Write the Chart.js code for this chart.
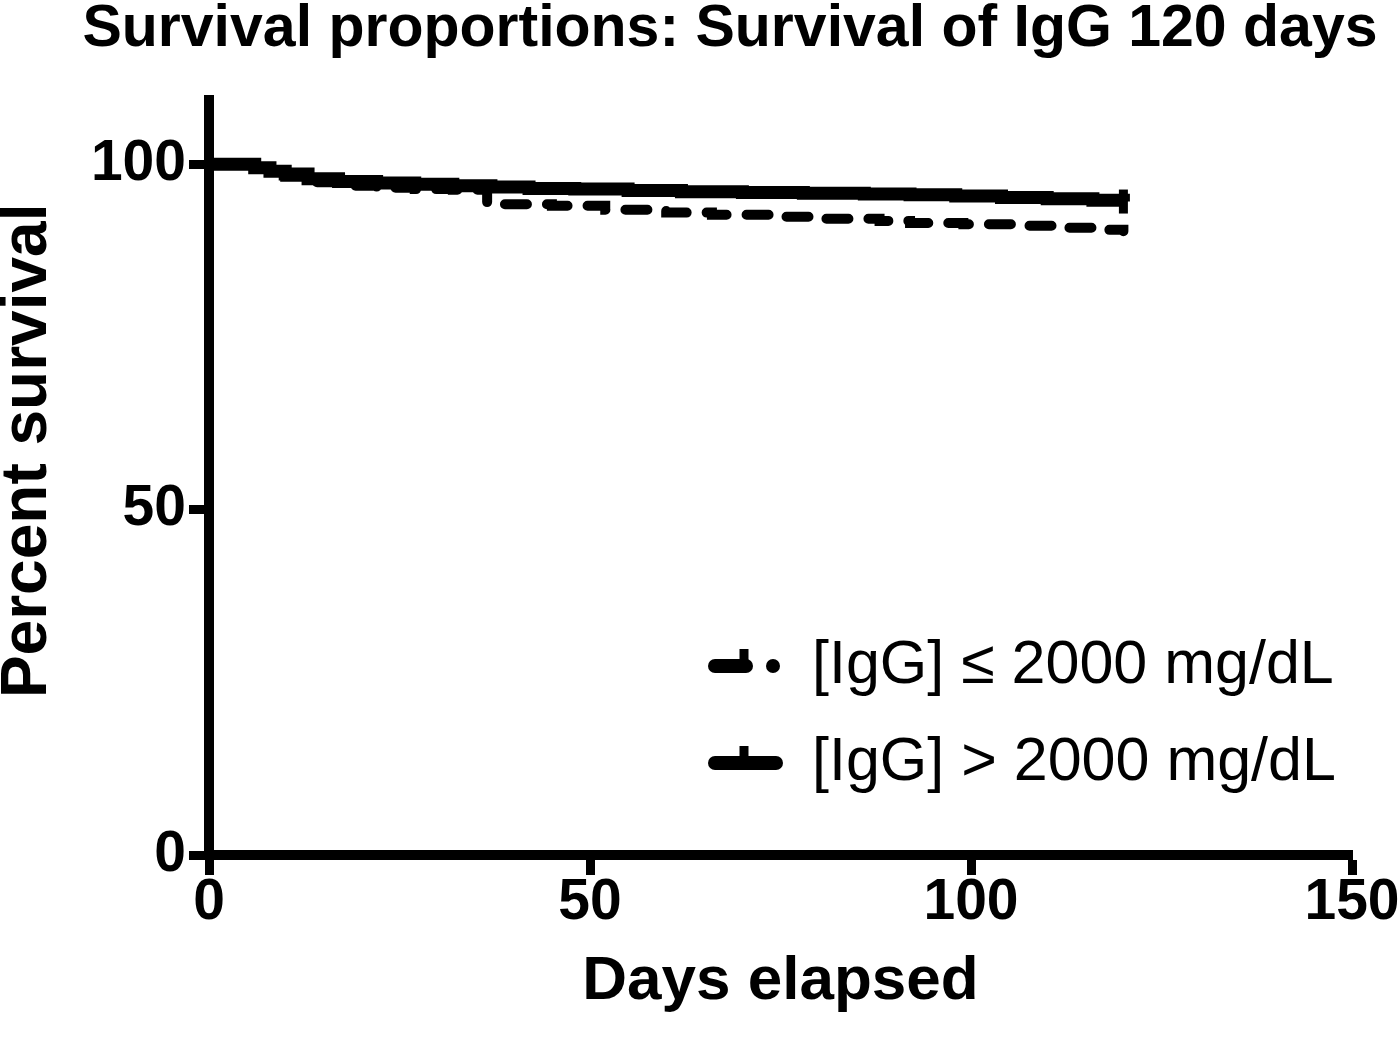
<!DOCTYPE html>
<html>
<head>
<meta charset="utf-8">
<script src="https://cdn.jsdelivr.net/npm/chart.js@4/dist/chart.umd.min.js"></script>
<style>
  html, body { margin: 0; padding: 0; background: #fff; }
</style>
</head>
<body>
<canvas id="myChart" width="1400" height="1045"></canvas>
<script>
const FONT = "'Liberation Sans', Arial, sans-serif";

const chartTitle = "Survival proportions: Survival of IgG 120 days";
const seriesNames = ["[IgG] \u2264 2000 mg/dL", "[IgG] > 2000 mg/dL"];

// [IgG] <= 2000 (dashed)
const daysLow = [0, 4, 6, 8, 10, 13, 17, 22, 27, 32, 36.5, 45, 52, 60, 66, 74, 81, 88, 92, 99, 106, 112, 117, 120];
const survivalLow = [100, 100, 99.3, 98.8, 98.2, 97.4, 96.9, 96.6, 96.4, 96.3, 94.2, 94.0, 93.4, 93.0, 92.7, 92.4, 92.1, 91.8, 91.5, 91.3, 91.1, 90.8, 90.5, 90.3];

// [IgG] > 2000 (solid)
const daysHigh = [0, 4, 6, 8, 10, 13, 17, 22, 27, 32, 37, 42, 48, 55, 62, 70, 78, 86, 92, 98, 104, 110, 116, 120];
const survivalHigh = [100, 100, 99.5, 99.0, 98.6, 97.9, 97.5, 97.3, 97.1, 96.9, 96.7, 96.5, 96.4, 96.2, 96.0, 95.9, 95.8, 95.7, 95.6, 95.4, 95.2, 95.0, 94.8, 94.6];

const xTicks = [0, 50, 100, 150];
const yTicks = [0, 50, 100];

const ctx = document.getElementById("myChart");

// legend drawn inside the plot, bottom right
const insideLegend = {
  id: "insideLegend",
  afterDatasetsDraw(chart) {
    const c = chart.ctx;
    c.save();
    chart.data.datasets.forEach((ds, i) => {
      const y = 666 + i * 97;
      c.strokeStyle = "#000";
      c.fillStyle = "#000";
      c.lineCap = "round";
      c.lineWidth = 14;
      c.beginPath();
      if (ds.borderDash && ds.borderDash.length) {
        c.moveTo(715, y);
        c.lineTo(746, y);
        c.stroke();
        c.beginPath();
        c.arc(773, y, 7, 0, Math.PI * 2);
        c.fill();
      } else {
        c.moveTo(715, y);
        c.lineTo(776, y);
        c.stroke();
      }
      c.lineCap = "butt";
      c.lineWidth = 9;
      c.beginPath();
      c.moveTo(744, y);
      c.lineTo(744, y - 17);
      c.stroke();
      c.font = "61px " + FONT;
      c.textBaseline = "middle";
      c.textAlign = "left";
      c.fillText(ds.label, 812, y);
    });
    c.restore();
  },
};

new Chart(ctx, {
  type: "line",
  data: {
    datasets: [
      {
        label: seriesNames[0],
        data: daysLow.map((d, i) => ({x: d, y: survivalLow[i]})),
        borderColor: "#000",
        borderWidth: 10,
        borderDash: [22, 20],
        borderCapStyle: "round",
        stepped: "before",
        pointRadius: 0,
        order: 1,
      },
      {
        label: seriesNames[1],
        data: daysHigh.map((d, i) => ({x: d, y: survivalHigh[i]})),
        borderColor: "#000",
        borderWidth: 13,
        stepped: "before",
        pointStyle: "line",
        rotation: 90,
        pointRadius: (c) => (c.dataIndex === daysHigh.length - 1 ? 12 : 0),
        pointBorderWidth: 9,
        pointBorderColor: "#000",
        order: 0,
      },
    ],
  },
  options: {
    responsive: false,
    devicePixelRatio: 1,
    animation: false,
    layout: {padding: {left: 60, right: 0, top: 0, bottom: 0}},
    plugins: {
      legend: {display: false},
      tooltip: {enabled: false},
      title: {
        display: true,
        text: chartTitle,
        color: "#000",
        font: {family: FONT, size: 59, weight: "bold", lineHeight: 1},
        padding: {top: 0, bottom: 41},
      },
    },
    scales: {
      x: {
        type: "linear",
        min: 0,
        max: 150,
        afterBuildTicks: (s) => { s.ticks = xTicks.map(v => ({value: v})); },
        afterFit: (s) => { s.height = 190; s.paddingRight = 48; },
        grid: {drawOnChartArea: false, drawTicks: true, tickLength: 20, tickWidth: 9, tickColor: "#000"},
        border: {display: true, width: 10, color: "#000"},
        ticks: {
          color: "#000",
          padding: 0,
          font: {family: FONT, size: 57, weight: "bold", lineHeight: 1},
        },
        title: {
          display: true,
          text: "Days elapsed",
          color: "#000",
          font: {family: FONT, size: 62, weight: "bold", lineHeight: 1},
          padding: {top: 0, bottom: 32},
        },
      },
      y: {
        min: 0,
        max: 109.3,
        afterBuildTicks: (s) => { s.ticks = yTicks.map(v => ({value: v})); },
        afterFit: (s) => { s.width = 149; },
        grid: {drawOnChartArea: false, drawTicks: true, tickLength: 20, tickWidth: 9, tickColor: "#000"},
        border: {display: true, width: 10, color: "#000"},
        ticks: {
          color: "#000",
          padding: 3,
          font: {family: FONT, size: 57, weight: "bold", lineHeight: 1},
        },
        title: {
          display: true,
          text: "\u00A0\u00A0\u00A0Percent survival",
          color: "#000",
          font: {family: FONT, size: 64, weight: "bold", lineHeight: 0.9},
          padding: {top: -60, bottom: 0},
        },
      },
    },
  },
  plugins: [insideLegend],
});
</script>
</body>
</html>
